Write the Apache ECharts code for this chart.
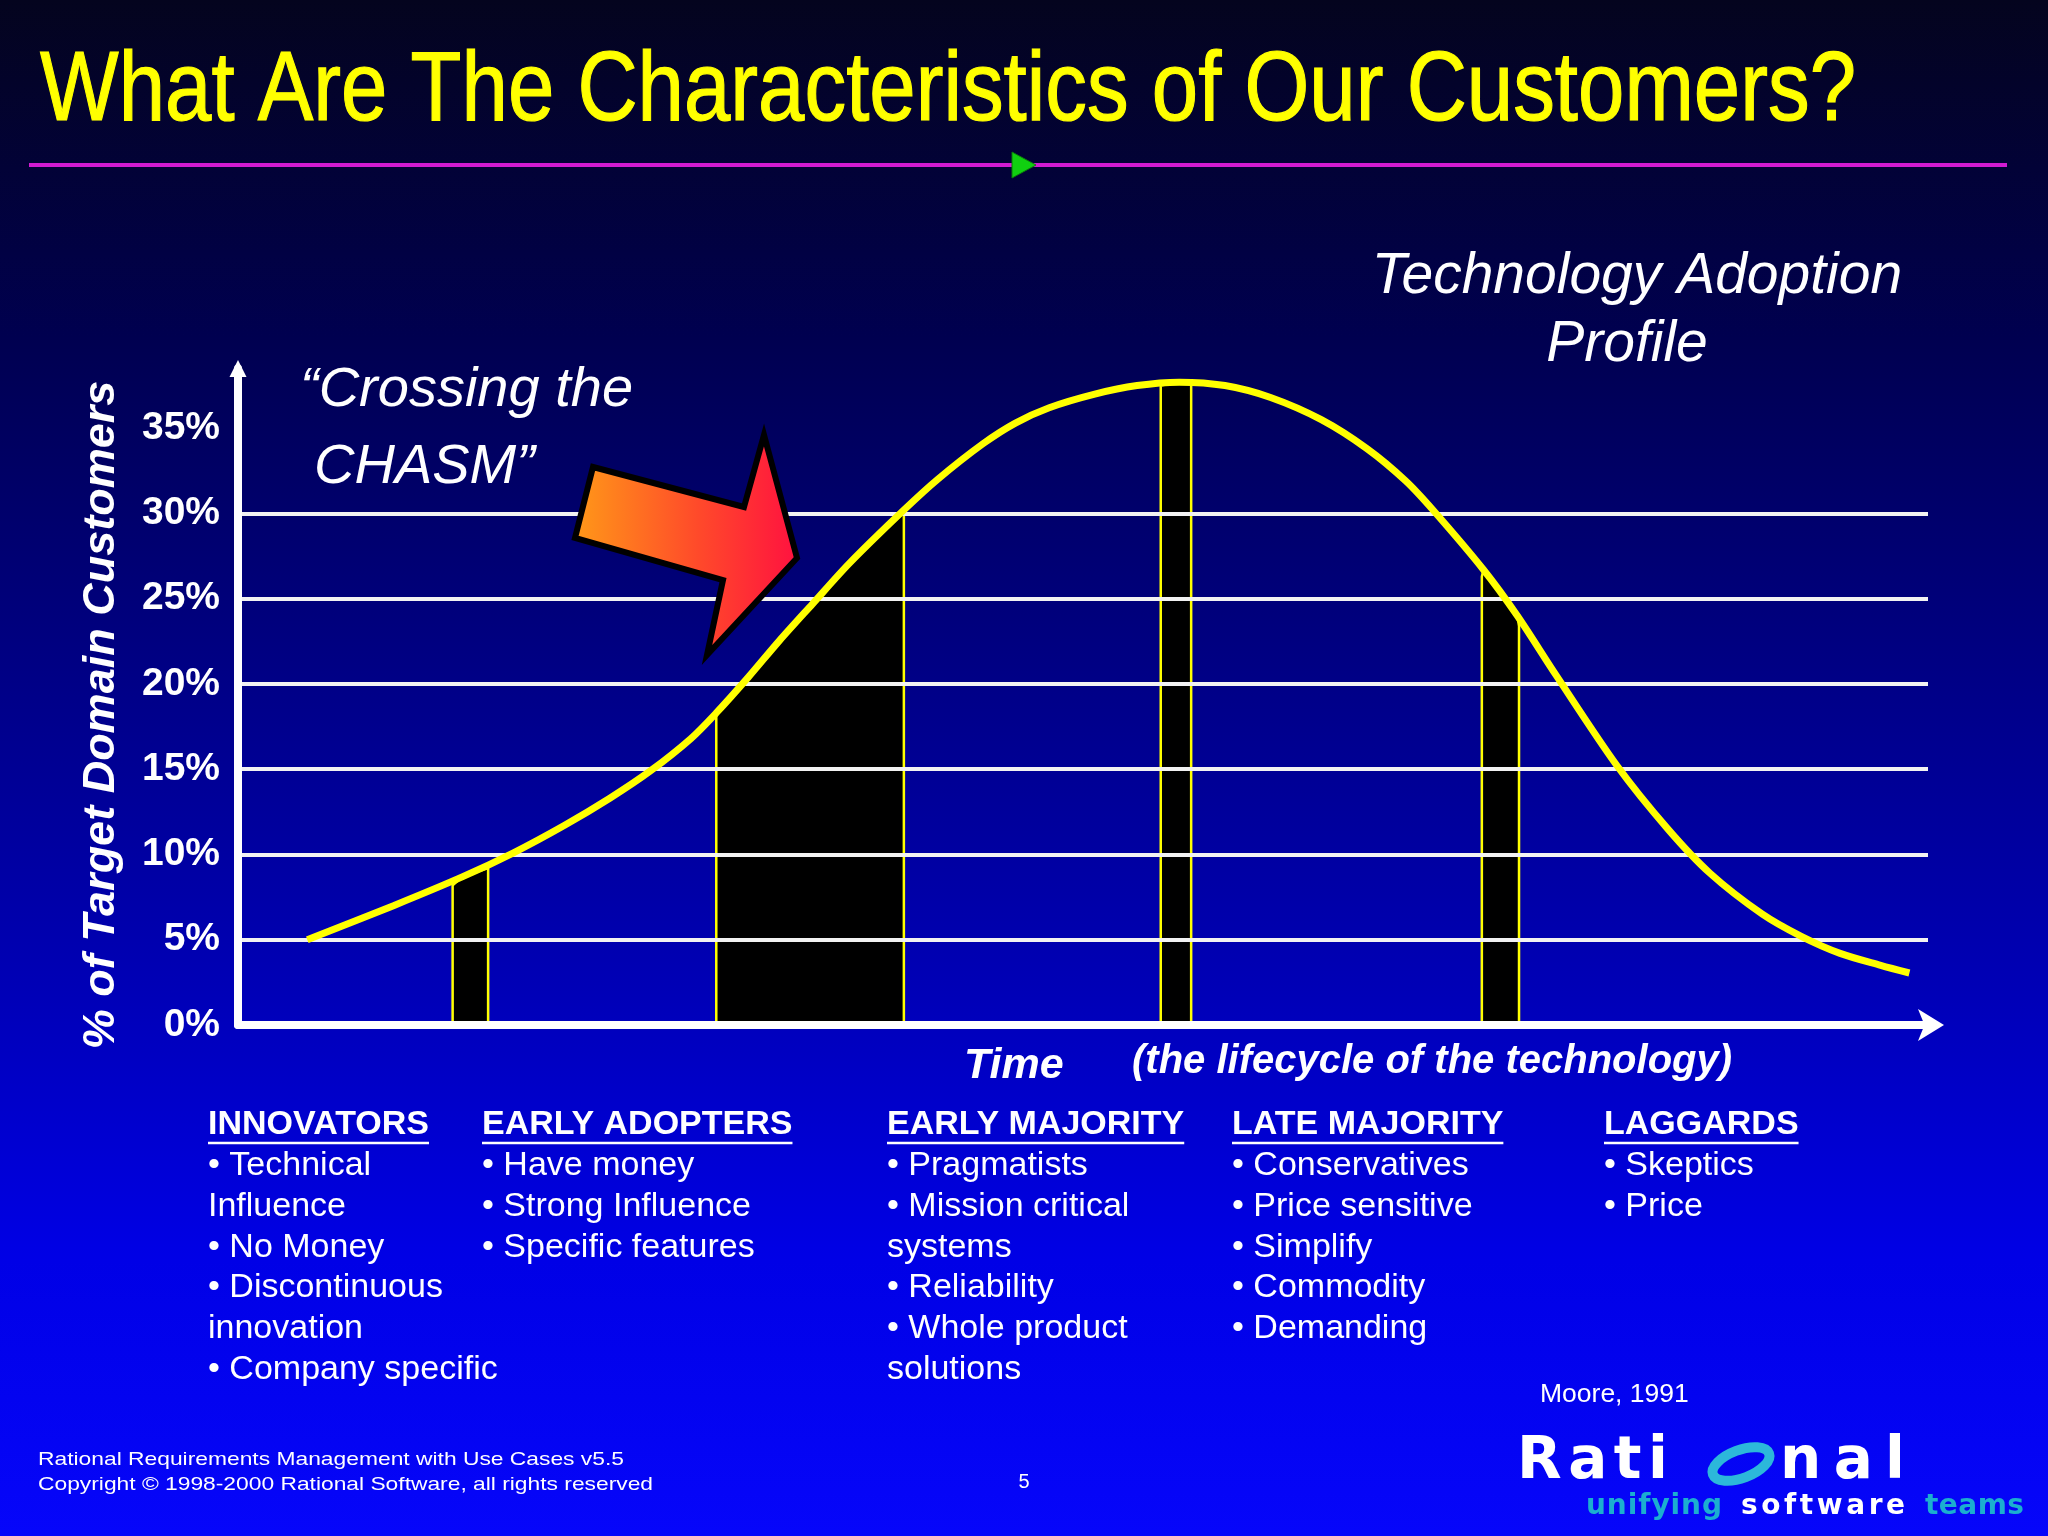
<!DOCTYPE html>
<html><head><meta charset="utf-8">
<script src="https://cdn.jsdelivr.net/npm/echarts@6/dist/echarts.min.js"></script>
<style>
html,body{margin:0;padding:0;}
#chart{width:2048px;height:1536px;background:linear-gradient(to bottom,#04041E 0%,#000050 22%,#000088 45%,#0000B8 65%,#0000E6 82%,#0606FA 100%);}
</style>
</head><body><div id="chart"></div>
<script>
// ---------------- data ----------------
const yTickValues = [0, 5, 10, 15, 20, 25, 30, 35];
const gridValues = [5, 10, 15, 20, 25, 30];
const curveT = [4.1, 9.2, 13.3, 16.3, 19.3, 22.0, 24.4, 26.8, 28.3, 30.2, 32.0, 34.0, 36.2, 39.4, 41.4, 44.1, 46.0, 48.0, 50.7, 53.2, 55.7, 58.4, 61.1, 64.1, 66.8, 69.1, 70.8, 73.7, 75.7, 78.0, 81.6, 84.6, 87.1, 90.2, 92.5, 94.8, 97.2, 98.9];
const curveY = [5.0, 7.0, 8.7, 10.1, 11.7, 13.3, 14.9, 16.8, 18.3, 20.4, 22.5, 24.7, 27.1, 30.2, 32.0, 34.1, 35.3, 36.2, 37.0, 37.5, 37.7, 37.5, 36.8, 35.5, 33.8, 31.9, 30.1, 26.7, 24.0, 20.5, 15.2, 11.5, 8.9, 6.5, 5.2, 4.2, 3.5, 3.05];
const bandStart = [12.7, 28.3, 54.6, 73.6];
const bandEnd = [14.8, 39.4, 56.4, 75.8];
const bandTopStart = [8.2, 18.3, 37.5, 26.3];
const bandTopEnd = [9.2, 30.1, 37.6, 23.4];
const segmentNames = ['INNOVATORS', 'EARLY ADOPTERS', 'EARLY MAJORITY', 'LATE MAJORITY', 'LAGGARDS'];
const segmentTraits = [
  ['• Technical', 'Influence', '• No Money', '• Discontinuous', 'innovation', '• Company specific'],
  ['• Have money', '• Strong Influence', '• Specific features'],
  ['• Pragmatists', '• Mission critical', 'systems', '• Reliability', '• Whole product', 'solutions'],
  ['• Conservatives', '• Price sensitive', '• Simplify', '• Commodity', '• Demanding'],
  ['• Skeptics', '• Price']
];
const titleText = 'What Are The Characteristics of Our Customers?';
const yAxisTitle = '% of Target Domain Customers';
// ---------------------------------------

const FAM = '"Liberation Sans", Arial, sans-serif';
const LOGOF = '"DejaVu Sans", sans-serif';
const mctx = document.createElement('canvas').getContext('2d');
function measure(text, size, weight, style, family) {
  mctx.font = (style || 'normal') + ' ' + (weight || 'normal') + ' ' + size + 'px ' + (family || FAM);
  return mctx.measureText(text).width;
}
function txt(text, x, y, size, o) {
  o = o || {};
  let sx = 1;
  if (o.fitW) sx = o.fitW / measure(text, size, o.weight, o.italic ? 'italic' : 'normal', o.family);
  const st = {
    text: text, fill: o.color || '#FFFFFF', fontSize: size, fontFamily: o.family || FAM,
    fontWeight: o.weight || 'normal', fontStyle: o.italic ? 'italic' : 'normal',
    align: o.align || 'left', verticalAlign: 'middle'
  };
  if (o.stroke) { st.stroke = o.stroke; st.lineWidth = o.strokeW || 1; }
  return {type: 'text', x: x, y: y, z: 50, scaleX: sx, rotation: o.rotation || 0, style: st};
}
// letter-spaced word spanning [x0, x1]
function spaced(word, x0, x1, y, size, weight, color, out) {
  const chars = word.split('');
  const ws = chars.map(function (c) { return measure(c, size, weight, 'normal', LOGOF); });
  const total = ws.reduce(function (a, b) { return a + b; }, 0);
  const track = chars.length > 1 ? (x1 - x0 - total) / (chars.length - 1) : 0;
  let x = x0;
  chars.forEach(function (c, i) {
    out.push(txt(c, x, y, size, {weight: weight, family: LOGOF, color: color}));
    x += ws[i] + track;
  });
}

const g = [];
// title
g.push(txt(titleText, 40, 93, 99, {color: '#FFFF00', fitW: 1816, stroke: '#FFFF00', strokeW: 1.2}));
// magenta rule + green marker
g.push({type: 'line', z: 40, shape: {x1: 29, y1: 165, x2: 2007, y2: 165}, style: {stroke: '#D21BD2', lineWidth: 4}});
g.push({type: 'polygon', z: 41, shape: {points: [[1012, 152], [1036, 165], [1012, 178]]}, style: {fill: '#10D010', stroke: '#0A7A0A', lineWidth: 1}});
// Technology Adoption Profile
g.push(txt('Technology Adoption', 1637, 277, 57, {italic: true, align: 'center'}));
g.push(txt('Profile', 1627, 345, 57, {italic: true, align: 'center'}));
// Crossing the chasm
g.push(txt('\u201CCrossing the', 300, 390, 56, {italic: true}));
g.push(txt('CHASM\u201D', 314, 467, 56, {italic: true}));
// big arrow
g.push({
  type: 'polygon', z: 60,
  shape: {points: [[593, 467], [744, 507], [764, 435], [797, 558], [707, 655], [723, 580], [575, 538]]},
  style: {
    fill: {type: 'linear', x: 0, y: 0, x2: 1, y2: 0, colorStops: [{offset: 0, color: '#FF9A18'}, {offset: 0.55, color: '#FF4A2A'}, {offset: 1, color: '#FF1040'}]},
    stroke: '#000000', lineWidth: 6, lineJoin: 'miter'
  }
});
// y axis title
g.push(txt(yAxisTitle, 102, 715, 45, {italic: true, weight: 'bold', align: 'center', rotation: Math.PI / 2}));
// x axis caption
g.push(txt('Time', 964, 1066, 43, {italic: true, weight: 'bold'}));
g.push(txt('(the lifecycle of the technology)', 1132, 1062, 40, {italic: true, weight: 'bold'}));
// columns
const colX = [208, 482, 887, 1232, 1604];
const headerY = 1124.5, rowY0 = 1165.7, rowStep = 40.75;
segmentNames.forEach(function (name, i) {
  g.push(txt(name, colX[i], headerY, 34, {weight: 'bold'}));
  const w = measure(name, 34, 'bold');
  g.push({type: 'line', z: 50, shape: {x1: colX[i], y1: 1143, x2: colX[i] + w, y2: 1143}, style: {stroke: '#FFFFFF', lineWidth: 2.5}});
  segmentTraits[i].forEach(function (t, k) {
    g.push(txt(t, colX[i], rowY0 + k * rowStep, 34, {}));
  });
});
// source + footer
g.push(txt('Moore, 1991', 1540, 1395, 26.5, {}));
g.push(txt('Rational Requirements Management with Use Cases v5.5', 38, 1460, 19, {fitW: 586}));
g.push(txt('Copyright \u00A9 1998-2000 Rational Software, all rights reserved', 38, 1485, 19, {fitW: 615}));
g.push(txt('5', 1024, 1482, 20, {align: 'center'}));
// logo
spaced('Rati', 1517, 1668, 1463, 58, 'bold', '#FFFFFF', g);
g.push({type: 'ellipse', z: 50, x: 1741, y: 1464, rotation: 0.36, shape: {cx: 0, cy: 0, rx: 30, ry: 14}, style: {fill: 'none', stroke: '#2CB8DA', lineWidth: 10}});
spaced('nal', 1780, 1905, 1463, 58, 'bold', '#FFFFFF', g);
spaced('unifying', 1586, 1722, 1507, 28, 'bold', '#1BAFD0', g);
spaced('software', 1741, 1905, 1507, 28, 'bold', '#FFFFFF', g);
spaced('teams', 1925, 2024, 1507, 28, 'bold', '#1BAFD0', g);

const chart = echarts.init(document.getElementById('chart'), null, {renderer: 'canvas', width: 2048, height: 1536});
chart.setOption({
  backgroundColor: 'transparent',
  animation: false,
  grid: {left: 238, right: 120, top: 368.5, bottom: 511, containLabel: false},
  xAxis: {
    type: 'value', min: 0, max: 100, z: 10,
    axisLine: {show: true, lineStyle: {color: '#FFFFFF', width: 8}, symbol: ['none', 'arrow'], symbolSize: [24, 26], symbolOffset: [0, 16]},
    axisTick: {show: false}, axisLabel: {show: false}, splitLine: {show: false}
  },
  yAxis: {
    type: 'value', min: 0, max: 38.5, interval: 5, z: 10,
    axisLine: {show: true, lineStyle: {color: '#FFFFFF', width: 8}, symbol: ['none', 'triangle'], symbolSize: [17, 17]},
    axisTick: {show: false}, splitLine: {show: false},
    axisLabel: {
      show: true, showMaxLabel: false, margin: 18, color: '#FFFFFF', fontSize: 39, fontWeight: 'bold', fontFamily: FAM,
      padding: [18, 0, 0, 0],
      formatter: function (v) { return yTickValues.indexOf(v) >= 0 ? v + '%' : ''; }
    }
  },
  graphic: {elements: g},
  series: [
    {
      type: 'line', data: [], z: 1, silent: true,
      markLine: {
        silent: true, symbol: ['none', 'none'], label: {show: false}, animation: false,
        lineStyle: {color: '#F2F2F2', width: 4, type: 'solid'},
        emphasis: {disabled: true},
        data: gridValues.map(function (v) { return {yAxis: v}; })
      }
    },
    {
      type: 'custom', z: 3, silent: true,
      data: bandStart.map(function (s, i) { return [s, bandEnd[i], bandTopStart[i], bandTopEnd[i]]; }),
      encode: {x: [0, 1], y: [2, 3]},
      renderItem: function (params, api) {
        const s = api.value(0), e = api.value(1), ts = api.value(2), te = api.value(3);
        const pts = [api.coord([s, 0]), api.coord([s, ts])];
        curveT.forEach(function (t, k) { if (t > s && t < e) pts.push(api.coord([t, curveY[k]])); });
        pts.push(api.coord([e, te]));
        pts.push(api.coord([e, 0]));
        return {type: 'polygon', shape: {points: pts}, style: {fill: '#000000', stroke: '#FFFF00', lineWidth: 2.5}};
      }
    },
    {
      type: 'line', z: 5, silent: true, smooth: 0.3, symbol: 'none',
      data: curveT.map(function (t, i) { return [t, curveY[i]]; }),
      lineStyle: {color: '#FFFF00', width: 7}
    }
  ]
});
</script>
</body></html>
